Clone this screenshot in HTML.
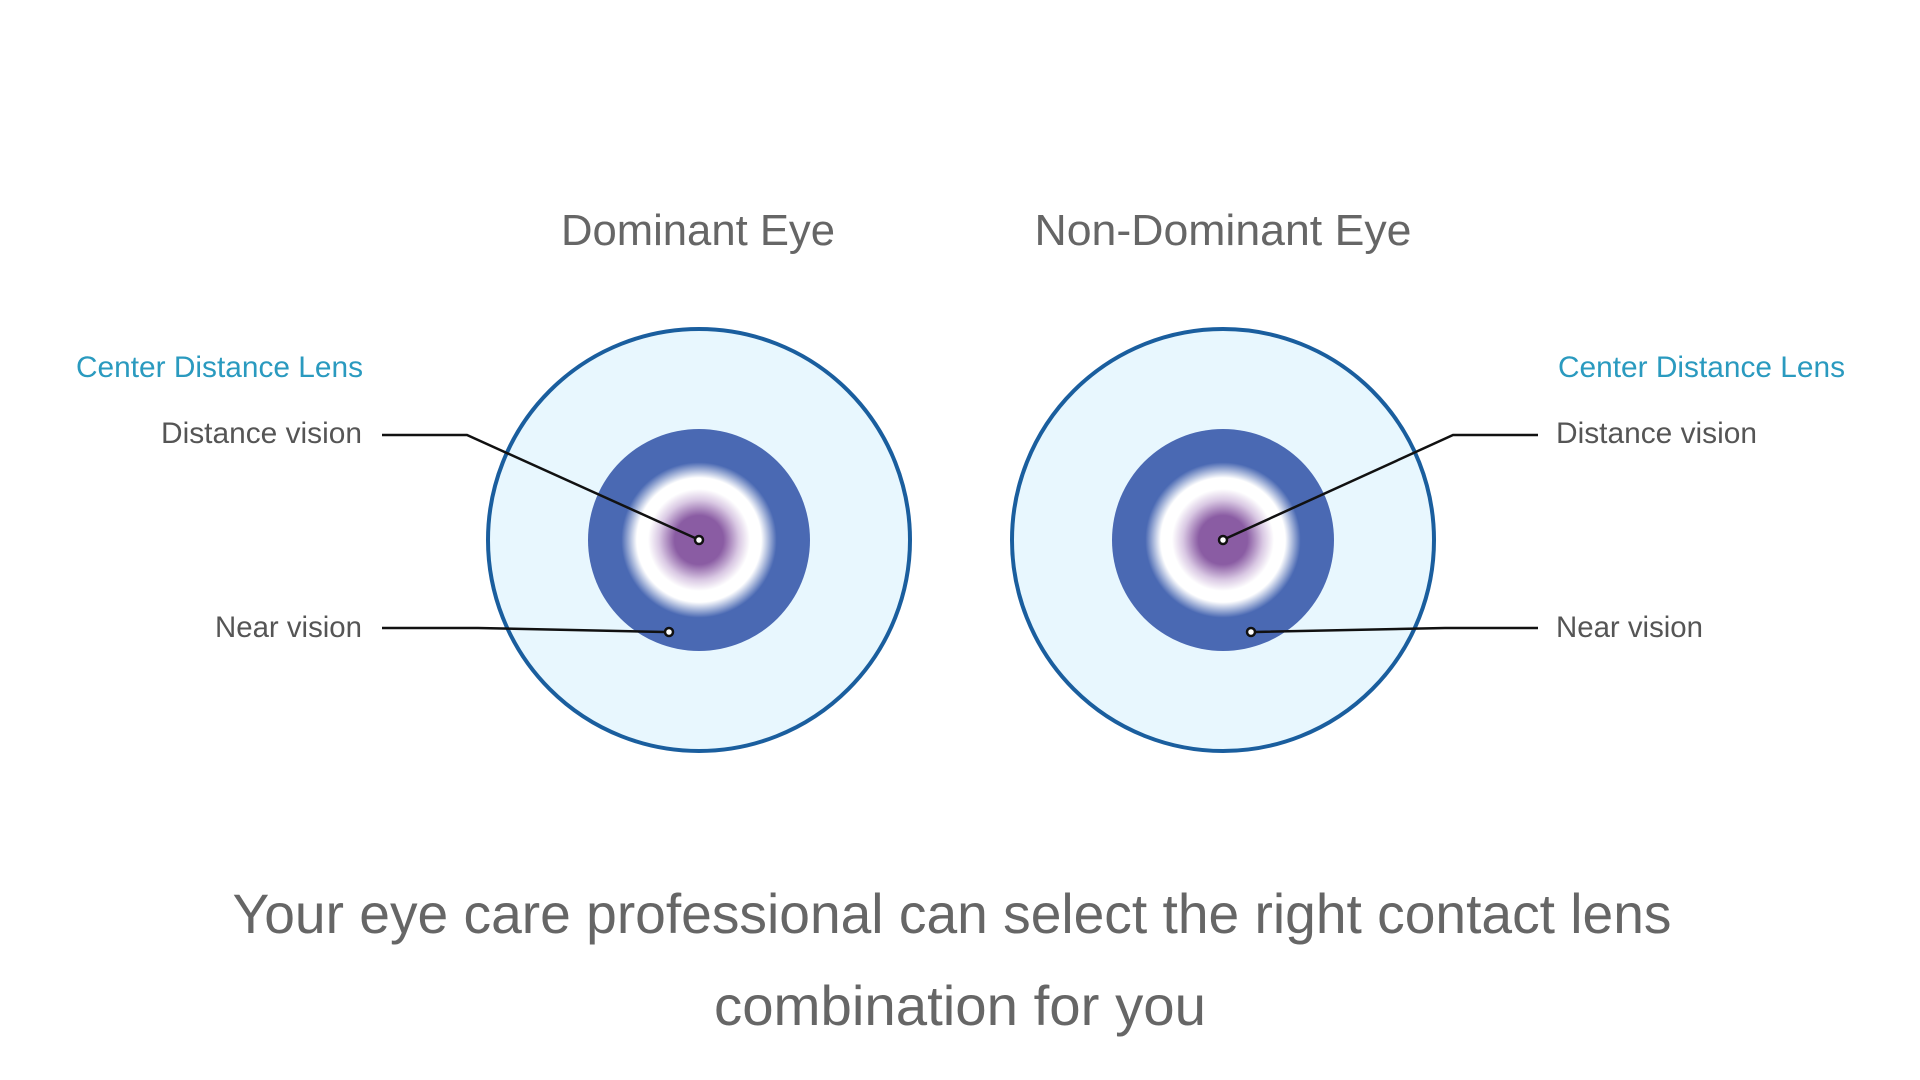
<!DOCTYPE html>
<html><head><meta charset="utf-8"><style>html,body{margin:0;padding:0;background:#fff}svg{display:block}</style></head>
<body>
<svg width="1920" height="1080" viewBox="0 0 1920 1080" xmlns="http://www.w3.org/2000/svg" font-family="Liberation Sans, sans-serif">
<defs>
<radialGradient id="g" cx="0.5" cy="0.5" r="0.5">
<stop offset="0" stop-color="#8a5ca3"/>
<stop offset="0.22" stop-color="#8a5ca3"/>
<stop offset="0.36" stop-color="#d9c8e3"/>
<stop offset="0.46" stop-color="#ffffff"/>
<stop offset="0.56" stop-color="#ffffff"/>
<stop offset="0.7" stop-color="#4a69b3"/>
<stop offset="1" stop-color="#4a69b3"/>
</radialGradient>
</defs>
<rect width="1920" height="1080" fill="#fff"/>
<g fill="#666" font-size="44">
<text x="698" y="245" text-anchor="middle" textLength="274" lengthAdjust="spacingAndGlyphs">Dominant Eye</text>
<text x="1223" y="245" text-anchor="middle" textLength="377" lengthAdjust="spacingAndGlyphs">Non-Dominant Eye</text>
</g>
<g>
<circle cx="699" cy="540" r="211" fill="#e8f7fe" stroke="#1a5e9e" stroke-width="4"/>
<circle cx="699" cy="540" r="111" fill="url(#g)"/>
<circle cx="1223" cy="540" r="211" fill="#e8f7fe" stroke="#1a5e9e" stroke-width="4"/>
<circle cx="1223" cy="540" r="111" fill="url(#g)"/>
</g>
<g fill="none" stroke="#111" stroke-width="2.5">
<polyline points="382,435 467,435 695,538"/>
<polyline points="382,628 478,628 665,632"/>
<polyline points="1538,435 1453,435 1227,538"/>
<polyline points="1538,628 1445,628 1255,632"/>
</g>
<g fill="#fff" stroke="#111" stroke-width="2.5">
<circle cx="699" cy="540" r="4"/>
<circle cx="669" cy="632" r="4"/>
<circle cx="1223" cy="540" r="4"/>
<circle cx="1251" cy="632" r="4"/>
</g>
<g font-size="30">
<text x="76" y="377" fill="#2a9abf" textLength="287" lengthAdjust="spacingAndGlyphs">Center Distance Lens</text>
<text x="1558" y="377" fill="#2a9abf" textLength="287" lengthAdjust="spacingAndGlyphs">Center Distance Lens</text>
<text x="161" y="443" fill="#555" textLength="201" lengthAdjust="spacingAndGlyphs">Distance vision</text>
<text x="215" y="637" fill="#555" textLength="147" lengthAdjust="spacingAndGlyphs">Near vision</text>
<text x="1556" y="443" fill="#555" textLength="201" lengthAdjust="spacingAndGlyphs">Distance vision</text>
<text x="1556" y="637" fill="#555" textLength="147" lengthAdjust="spacingAndGlyphs">Near vision</text>
</g>
<g fill="#666" font-size="56" text-anchor="middle">
<text x="952" y="933" textLength="1439" lengthAdjust="spacingAndGlyphs">Your eye care professional can select the right contact lens</text>
<text x="960" y="1025" textLength="492" lengthAdjust="spacingAndGlyphs">combination for you</text>
</g>
</svg>
</body></html>
